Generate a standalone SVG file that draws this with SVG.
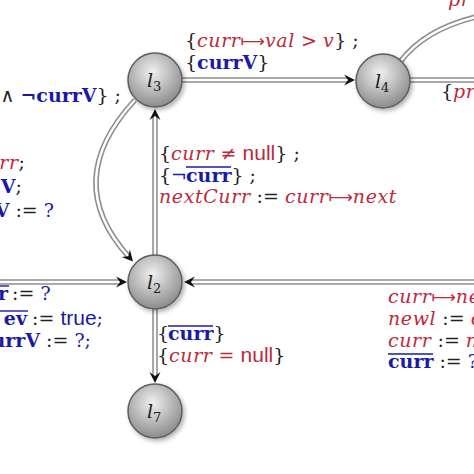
<svg xmlns="http://www.w3.org/2000/svg" width="474" height="474" viewBox="0 0 474 474">
<style>
text{font-family:"DejaVu Serif",serif;font-size:19px;fill:#222}
.r{fill:#c0283c}
.b{fill:#1a1aa6;font-weight:bold}
.bl{fill:#1a1aa6}
.k{fill:#222}
.it{font-style:italic;letter-spacing:0.6px}
.mt{font-family:"DejaVu Sans",sans-serif;font-size:17px}
.sf{font-family:"Liberation Sans",sans-serif;font-size:21px}
.ovl{stroke:#1a1aa6;stroke-width:1.4}
.o{fill:none;stroke:#8e8e8e;stroke-width:5.5}
.i{fill:none;stroke:#fff;stroke-width:2.4}
.node{fill:url(#g);stroke:#5e5e5e;stroke-width:1.5;filter:url(#sh)}
.lab{font-style:italic;fill:#222}
.sub{font-style:normal;font-size:13px}
</style>
<defs>
<radialGradient id="g" cx="0.45" cy="0.35" r="0.65">
<stop offset="0" stop-color="#f0f0f0"/>
<stop offset="1" stop-color="#8c8c8c"/>
</radialGradient>
<filter id="sh" x="-30%" y="-30%" width="170%" height="170%">
<feDropShadow dx="2" dy="2.5" stdDeviation="2" flood-color="#000" flood-opacity="0.3"/>
</filter>
<path id="ah" d="M0,0 L-11,-5.5 L-7,0 L-11,5.5 Z" fill="#111"/>
</defs>

<g id="connectors">
<path id="e34" class="o" d="M182,80 L349,80"/><path class="i" d="M182,80 L349,80"/>
<path id="e23" class="o" d="M155,255 L155,115"/><path class="i" d="M155,255 L155,115"/>
<path id="e32" class="o" d="M135,100 Q60,181 129,257"/><path class="i" d="M135,100 Q60,181 129,257"/>
<path id="ein2" class="o" d="M-5,282 L121,282"/><path class="i" d="M-5,282 L121,282"/>
<path id="ein2r" class="o" d="M480,282 L189,282"/><path class="i" d="M480,282 L189,282"/>
<path id="e27" class="o" d="M155,309 L155,377"/><path class="i" d="M155,309 L155,377"/>
<path id="e4r" class="o" d="M410,80 L480,80"/><path class="i" d="M410,80 L480,80"/>
<path id="e4u" class="o" d="M400,62 C415,42 440,25 480,16"/><path class="i" d="M400,62 C415,42 440,25 480,16"/>
<use href="#ah" transform="translate(355,80)"/>
<use href="#ah" transform="translate(155,109) rotate(-90)"/>
<use href="#ah" transform="translate(133,261.5) rotate(48.6)"/>
<use href="#ah" transform="translate(127,282)"/>
<use href="#ah" transform="translate(184,282) rotate(180)"/>
<use href="#ah" transform="translate(155,383) rotate(90)"/>
</g>

<g id="l3"><circle class="node" cx="155" cy="80" r="27"/><text class="lab" x="147" y="87">l<tspan class="sub" dy="4">3</tspan></text></g>
<g id="l4"><circle class="node" cx="383" cy="81" r="27"/><text class="lab" x="375" y="88">l<tspan class="sub" dy="4">4</tspan></text></g>
<g id="l2"><circle class="node" cx="155" cy="282" r="27"/><text class="lab" x="147" y="289">l<tspan class="sub" dy="4">2</tspan></text></g>
<g id="l7"><circle class="node" cx="155" cy="411" r="27"/><text class="lab" x="147" y="418">l<tspan class="sub" dy="4">7</tspan></text></g>

<g id="labels">
<text x="185" y="47"><tspan class="k">{</tspan><tspan class="r it">curr</tspan><tspan class="r mt">⟼</tspan><tspan class="r it">val</tspan><tspan class="r"> &gt; </tspan><tspan class="r it">v</tspan><tspan class="k">} ;</tspan></text>
<text x="185" y="69"><tspan class="k">{</tspan><tspan class="b">currV</tspan><tspan class="k">}</tspan></text>

<text x="121" y="102" text-anchor="end"><tspan class="k">∧ </tspan><tspan class="b">¬currV</tspan><tspan class="k">} ;</tspan></text>

<text x="25" y="169" text-anchor="end"><tspan class="r it">rr</tspan><tspan class="k">;</tspan></text>
<text x="22" y="193" text-anchor="end"><tspan class="b">V</tspan><tspan class="k">;</tspan></text>
<text x="54" y="217" text-anchor="end"><tspan class="b">V</tspan><tspan class="k"> := </tspan><tspan class="bl">?</tspan></text>

<text x="8" y="300" text-anchor="end"><tspan class="b">r</tspan></text>
<text x="12" y="300"><tspan class="k">:= </tspan><tspan class="bl">?</tspan></text>
<text x="27" y="325" text-anchor="end"><tspan class="b">ev</tspan></text>
<text x="32" y="325"><tspan class="k">:= </tspan><tspan class="bl sf">true</tspan><tspan class="bl">;</tspan></text>
<text x="91" y="347" text-anchor="end"><tspan class="b">urrV</tspan><tspan class="k"> := </tspan><tspan class="bl">?;</tspan></text>
<line class="ovl" x1="-2" y1="286" x2="9" y2="286"/>
<line class="ovl" x1="-2" y1="311" x2="28" y2="311"/>

<text x="159" y="160"><tspan class="k">{</tspan><tspan class="r it">curr</tspan><tspan class="r"> ≠ </tspan><tspan class="r sf">null</tspan><tspan class="k">} ;</tspan></text>
<text x="159" y="182"><tspan class="k">{</tspan><tspan class="bl">¬</tspan><tspan class="b" x="186">curr</tspan><tspan class="k">} ;</tspan></text>
<line class="ovl" x1="186" y1="167" x2="231" y2="167"/>
<text x="159" y="203"><tspan class="r it">nextCurr</tspan><tspan class="k"> := </tspan><tspan class="r it">curr</tspan><tspan class="r mt">⟼</tspan><tspan class="r it">next</tspan></text>

<text x="157" y="340"><tspan class="k">{</tspan><tspan class="b" x="168">curr</tspan><tspan class="k">}</tspan></text>
<line class="ovl" x1="168" y1="326" x2="213" y2="326"/>
<text x="157" y="362"><tspan class="k">{</tspan><tspan class="r it">curr</tspan><tspan class="r"> = </tspan><tspan class="r sf">null</tspan><tspan class="k">}</tspan></text>

<text x="388" y="303"><tspan class="r it">curr</tspan><tspan class="r mt">⟼</tspan><tspan class="r it">ne</tspan></text>
<text x="388" y="325"><tspan class="r it">newl</tspan><tspan class="k"> := </tspan><tspan class="r it">c</tspan></text>
<text x="388" y="347"><tspan class="r it">curr</tspan><tspan class="k"> := </tspan><tspan class="r it">n</tspan></text>
<text x="388" y="368"><tspan class="b">curr</tspan><tspan class="k"> := </tspan><tspan class="bl">?</tspan></text>
<line class="ovl" x1="388" y1="354" x2="433" y2="354"/>

<text x="448" y="6"><tspan class="r it">pr</tspan></text>
<text x="441" y="98"><tspan class="k">{</tspan><tspan class="r it">pr</tspan></text>
</g>
</svg>
